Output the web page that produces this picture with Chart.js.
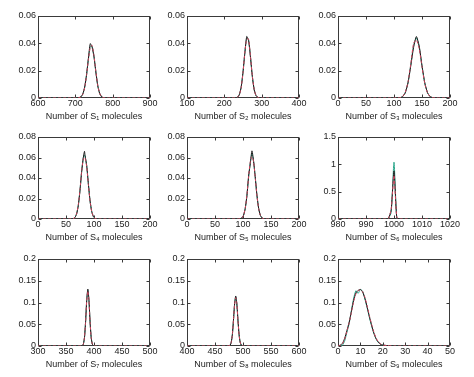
<!DOCTYPE html>
<html><head><meta charset="utf-8">
<script src="https://cdn.jsdelivr.net/npm/chart.js@4/dist/chart.umd.min.js"></script>
<style>
html,body{margin:0;padding:0;background:#fff;width:474px;height:377px;overflow:hidden}
canvas{position:absolute}
</style></head><body>
<script>
// ---- data ----
const s1X     = [600,700,705,710,715,720,725,730,735,740,745,750,755,760,765,770,775,780,790,900];
const s1Black = [0,0,0.0001,0.0003,0.0009,0.0030,0.0080,0.0170,0.0290,0.0398,0.0370,0.0300,0.0190,0.0090,0.0035,0.0010,0.0002,0.0001,0,0];
const s1Red   = [0,0,0.0001,0.0002,0.0008,0.0027,0.0075,0.0165,0.0280,0.0370,0.0385,0.0310,0.0195,0.0095,0.0036,0.0011,0.0003,0.0001,0,0];
const s1Green = [0,0,0.0001,0.0002,0.0008,0.0028,0.0077,0.0168,0.0284,0.0378,0.0380,0.0305,0.0190,0.0092,0.0035,0.0010,0.0002,0.0001,0,0];

const s2X     = [100,220,225,230,235,240,245,250,255,260,265,270,275,280,285,290,295,300,400];
const s2Black = [0,0,0.0001,0.0001,0.0005,0.0024,0.0078,0.0190,0.0330,0.0450,0.0420,0.0300,0.0158,0.0060,0.0017,0.0004,0.0001,0,0];
const s2Red   = [0,0,0.0001,0.0001,0.0005,0.0022,0.0074,0.0182,0.0338,0.0432,0.0430,0.0306,0.0160,0.0062,0.0017,0.0004,0.0001,0,0];
const s2Green = [0,0,0.0001,0.0001,0.0005,0.0023,0.0076,0.0186,0.0334,0.0440,0.0425,0.0302,0.0157,0.0061,0.0017,0.0004,0.0001,0,0];

const s3X     = [0,100,105,110,115,120,125,130,135,140,145,150,155,160,165,170,175,200];
const s3Black = [0,0,0.0001,0.0002,0.0009,0.0037,0.0110,0.0237,0.0370,0.0450,0.0380,0.0237,0.0110,0.0037,0.0009,0.0002,0,0];
const s3Red   = [0,0,0.0001,0.0002,0.0010,0.0040,0.0118,0.0250,0.0400,0.0425,0.0360,0.0228,0.0106,0.0036,0.0009,0.0002,0,0];
const s3Green = [0,0,0.0001,0.0002,0.0009,0.0038,0.0114,0.0244,0.0385,0.0440,0.0372,0.0232,0.0108,0.0037,0.0009,0.0002,0,0];

const s4X     = [0,55,60,63,66,69,72,75,78,81,83,84,87,90,93,96,99,102,105,110,200];
const s4Black = [0,0,0.0001,0.0004,0.0015,0.0050,0.0133,0.0279,0.0463,0.0600,0.0660,0.0620,0.0520,0.0340,0.0175,0.0072,0.0023,0.0006,0.0001,0,0];
const s4Red   = [0,0,0.0001,0.0004,0.0015,0.0052,0.0138,0.0285,0.0470,0.0590,0.0600,0.0600,0.0510,0.0335,0.0172,0.0071,0.0023,0.0006,0.0001,0,0];
const s4Green = [0,0,0.0001,0.0004,0.0015,0.0051,0.0135,0.0282,0.0466,0.0605,0.0625,0.0615,0.0515,0.0338,0.0174,0.0072,0.0023,0.0006,0.0001,0,0];

const s5X     = [0,90,95,98,101,104,107,110,113,116,119,122,125,128,131,134,137,140,200];
const s5Black = [0,0,0.0002,0.0010,0.0036,0.0102,0.0226,0.0420,0.0540,0.0665,0.0560,0.0400,0.0226,0.0102,0.0036,0.0010,0.0002,0,0];
const s5Red   = [0,0,0.0002,0.0010,0.0037,0.0106,0.0232,0.0410,0.0560,0.0610,0.0555,0.0395,0.0222,0.0100,0.0035,0.0010,0.0002,0,0];
const s5Green = [0,0,0.0002,0.0010,0.0036,0.0104,0.0229,0.0405,0.0550,0.0635,0.0558,0.0398,0.0224,0.0101,0.0036,0.0010,0.0002,0,0];

const s6X     = [980,997,998,999,1000,1001,1002,1020];
const s6Black = [0,0,0.01,0.17,0.88,0.02,0,0];
const s6Red   = [0,0,0.01,0.18,0.80,0.03,0,0];
const s6Green = [0,0,0.01,0.12,1.04,0.01,0,0];

const s7X     = [300,375,377,379,381,383,385,387,389,391,393,395,397,399,401,403,500];
const s7Black = [0,0,0.0001,0.0006,0.0043,0.0192,0.0555,0.1050,0.1310,0.1050,0.0555,0.0192,0.0043,0.0006,0.0001,0,0];
const s7Red   = [0,0,0.0001,0.0006,0.0045,0.0198,0.0565,0.1060,0.1260,0.1040,0.0548,0.0190,0.0043,0.0006,0.0001,0,0];
const s7Green = [0,0,0.0001,0.0006,0.0044,0.0195,0.0560,0.1055,0.1285,0.1045,0.0552,0.0191,0.0043,0.0006,0.0001,0,0];

const s8X     = [400,471,473,475,477,479,481,483,485,487,489,491,493,495,497,499,501,600];
const s8Black = [0,0,0.0001,0.0003,0.0019,0.0084,0.0260,0.0593,0.0969,0.1150,0.0969,0.0593,0.0260,0.0084,0.0019,0.0003,0,0];
const s8Red   = [0,0,0.0001,0.0003,0.0020,0.0086,0.0265,0.0600,0.0960,0.1110,0.0975,0.0598,0.0262,0.0084,0.0019,0.0003,0,0];
const s8Green = [0,0,0.0001,0.0003,0.0019,0.0085,0.0262,0.0596,0.0965,0.1130,0.0972,0.0595,0.0261,0.0084,0.0019,0.0003,0,0];

const s9X     = [0,1,2,3,4,5,6,7,8,9,10,11,12,13,14,15,16,17,18,19,20,22,25,50];
const s9Black = [0,0.002,0.006,0.018,0.036,0.055,0.080,0.105,0.122,0.128,0.130,0.124,0.110,0.090,0.068,0.048,0.030,0.017,0.009,0.004,0.002,0.001,0,0];
const s9Red   = [0,0.001,0.005,0.016,0.034,0.053,0.078,0.102,0.120,0.127,0.129,0.125,0.112,0.092,0.070,0.050,0.032,0.018,0.010,0.005,0.002,0.001,0,0];
const s9Green = [0,0,0.002,0.012,0.032,0.052,0.082,0.110,0.127,0.121,0.130,0.126,0.108,0.088,0.066,0.046,0.029,0.016,0.008,0.004,0.002,0.001,0,0];

const xMins  = [600,100,0,0,0,980,300,400,0];
const xMaxs  = [900,400,200,200,200,1020,500,600,50];
const xSteps = [100,100,50,50,50,10,50,50,10];
const yMaxs  = [0.06,0.06,0.06,0.08,0.08,1.5,0.2,0.2,0.2];
const ySteps = [0.02,0.02,0.02,0.02,0.02,0.5,0.05,0.05,0.05];
const xTitles = ['Number of S\u2081 molecules','Number of S\u2082 molecules','Number of S\u2083 molecules',
                 'Number of S\u2084 molecules','Number of S\u2085 molecules','Number of S\u2086 molecules',
                 'Number of S\u2087 molecules','Number of S\u2088 molecules','Number of S\u2089 molecules'];

const xs = [s1X,s2X,s3X,s4X,s5X,s6X,s7X,s8X,s9X];
const blacks = [s1Black,s2Black,s3Black,s4Black,s5Black,s6Black,s7Black,s8Black,s9Black];
const reds   = [s1Red,s2Red,s3Red,s4Red,s5Red,s6Red,s7Red,s8Red,s9Red];
const greens = [s1Green,s2Green,s3Green,s4Green,s5Green,s6Green,s7Green,s8Green,s9Green];

// ---- layout ----
const colLeft = [38,187,338];
const rowTop = [16,137,259];
const rowBottom = [98,219,346];
const plotW = 112, yAxisW = 34, xAxisH = 25, padTop = 8, padRight = 14;
const FONT = {family:'"Liberation Sans", Arial, sans-serif', size:9};
const TXT = '#222';

const frame = {
  id:'frame',
  beforeDatasetsDraw(chart){
    const {ctx, chartArea:a, scales:{x,y}} = chart;
    ctx.save();
    ctx.strokeStyle = '#3a3a3a'; ctx.lineWidth = 1;
    const L = Math.round(a.left)+0.5, R = Math.round(a.right)-0.5, T = Math.round(a.top)+0.5, B = Math.round(a.bottom)-0.5;
    ctx.strokeRect(L, T, R-L, B-T);
    ctx.beginPath();
    x.ticks.forEach(t=>{
      const p = Math.round(x.getPixelForValue(t.value))+0.5;
      ctx.moveTo(p,B); ctx.lineTo(p,B-3);
      ctx.moveTo(p,T); ctx.lineTo(p,T+3);
    });
    y.ticks.forEach(t=>{
      const p = Math.round(y.getPixelForValue(t.value))+0.5;
      ctx.moveTo(L,p); ctx.lineTo(L+3,p);
      ctx.moveTo(R,p); ctx.lineTo(R-3,p);
    });
    ctx.stroke();
    ctx.restore();
  }
};

function pts(xv, yv){ return xv.map((v,i)=>({x:v, y:yv[i]})); }

for (let i=0;i<9;i++){
  const c = i%3, r = Math.floor(i/3);
  const plotH = rowBottom[r]-rowTop[r];
  const W = yAxisW + plotW + padRight, H = padTop + plotH + xAxisH;
  const cv = document.createElement('canvas');
  cv.width = W; cv.height = H;
  cv.style.left = (colLeft[c]-yAxisW)+'px';
  cv.style.top = (rowTop[r]-padTop)+'px';
  cv.style.width = W+'px'; cv.style.height = H+'px';
  document.body.appendChild(cv);
  new Chart(cv, {
    type:'scatter',
    data:{datasets:[
      {data:pts(xs[i],reds[i]), showLine:true, borderColor:'#d0445e', borderWidth:1, borderDash:[3,2], pointRadius:0, tension:0.2},
      {data:pts(xs[i],blacks[i]), showLine:true, borderColor:'#1a1a1a', borderWidth:1, pointRadius:0, tension:0.2},
      {data:pts(xs[i],greens[i]), showLine:true, borderColor:'#2aa58a', borderWidth:1, pointRadius:0, tension:0.2}
    ]},
    options:{
      responsive:false, animation:false, devicePixelRatio:1,
      layout:{padding:{top:padTop, right:padRight, left:0, bottom:0}},
      plugins:{legend:{display:false}, tooltip:{enabled:false}},
      scales:{
        x:{type:'linear', min:xMins[i], max:xMaxs[i],
           ticks:{stepSize:xSteps[i], padding:0, font:FONT, color:TXT, maxRotation:0, autoSkip:false, callback:v=>String(v)},
           grid:{display:false, drawTicks:false}, border:{display:false},
           title:{display:true, text:xTitles[i], font:FONT, color:TXT, padding:{top:0,bottom:0.6}},
           afterFit(s){ s.height = xAxisH; s.paddingLeft = 0; s.paddingRight = 0; }
        },
        y:{type:'linear', min:0, max:yMaxs[i],
           ticks:{stepSize:ySteps[i], padding:2, font:FONT, color:TXT, callback:v=>String(+(+v).toFixed(3))},
           grid:{display:false, drawTicks:false}, border:{display:false},
           afterFit(s){ s.width = yAxisW; s.paddingTop = 0; s.paddingBottom = 0; }
        }
      }
    },
    plugins:[frame]
  });
}
</script>
</body></html>
